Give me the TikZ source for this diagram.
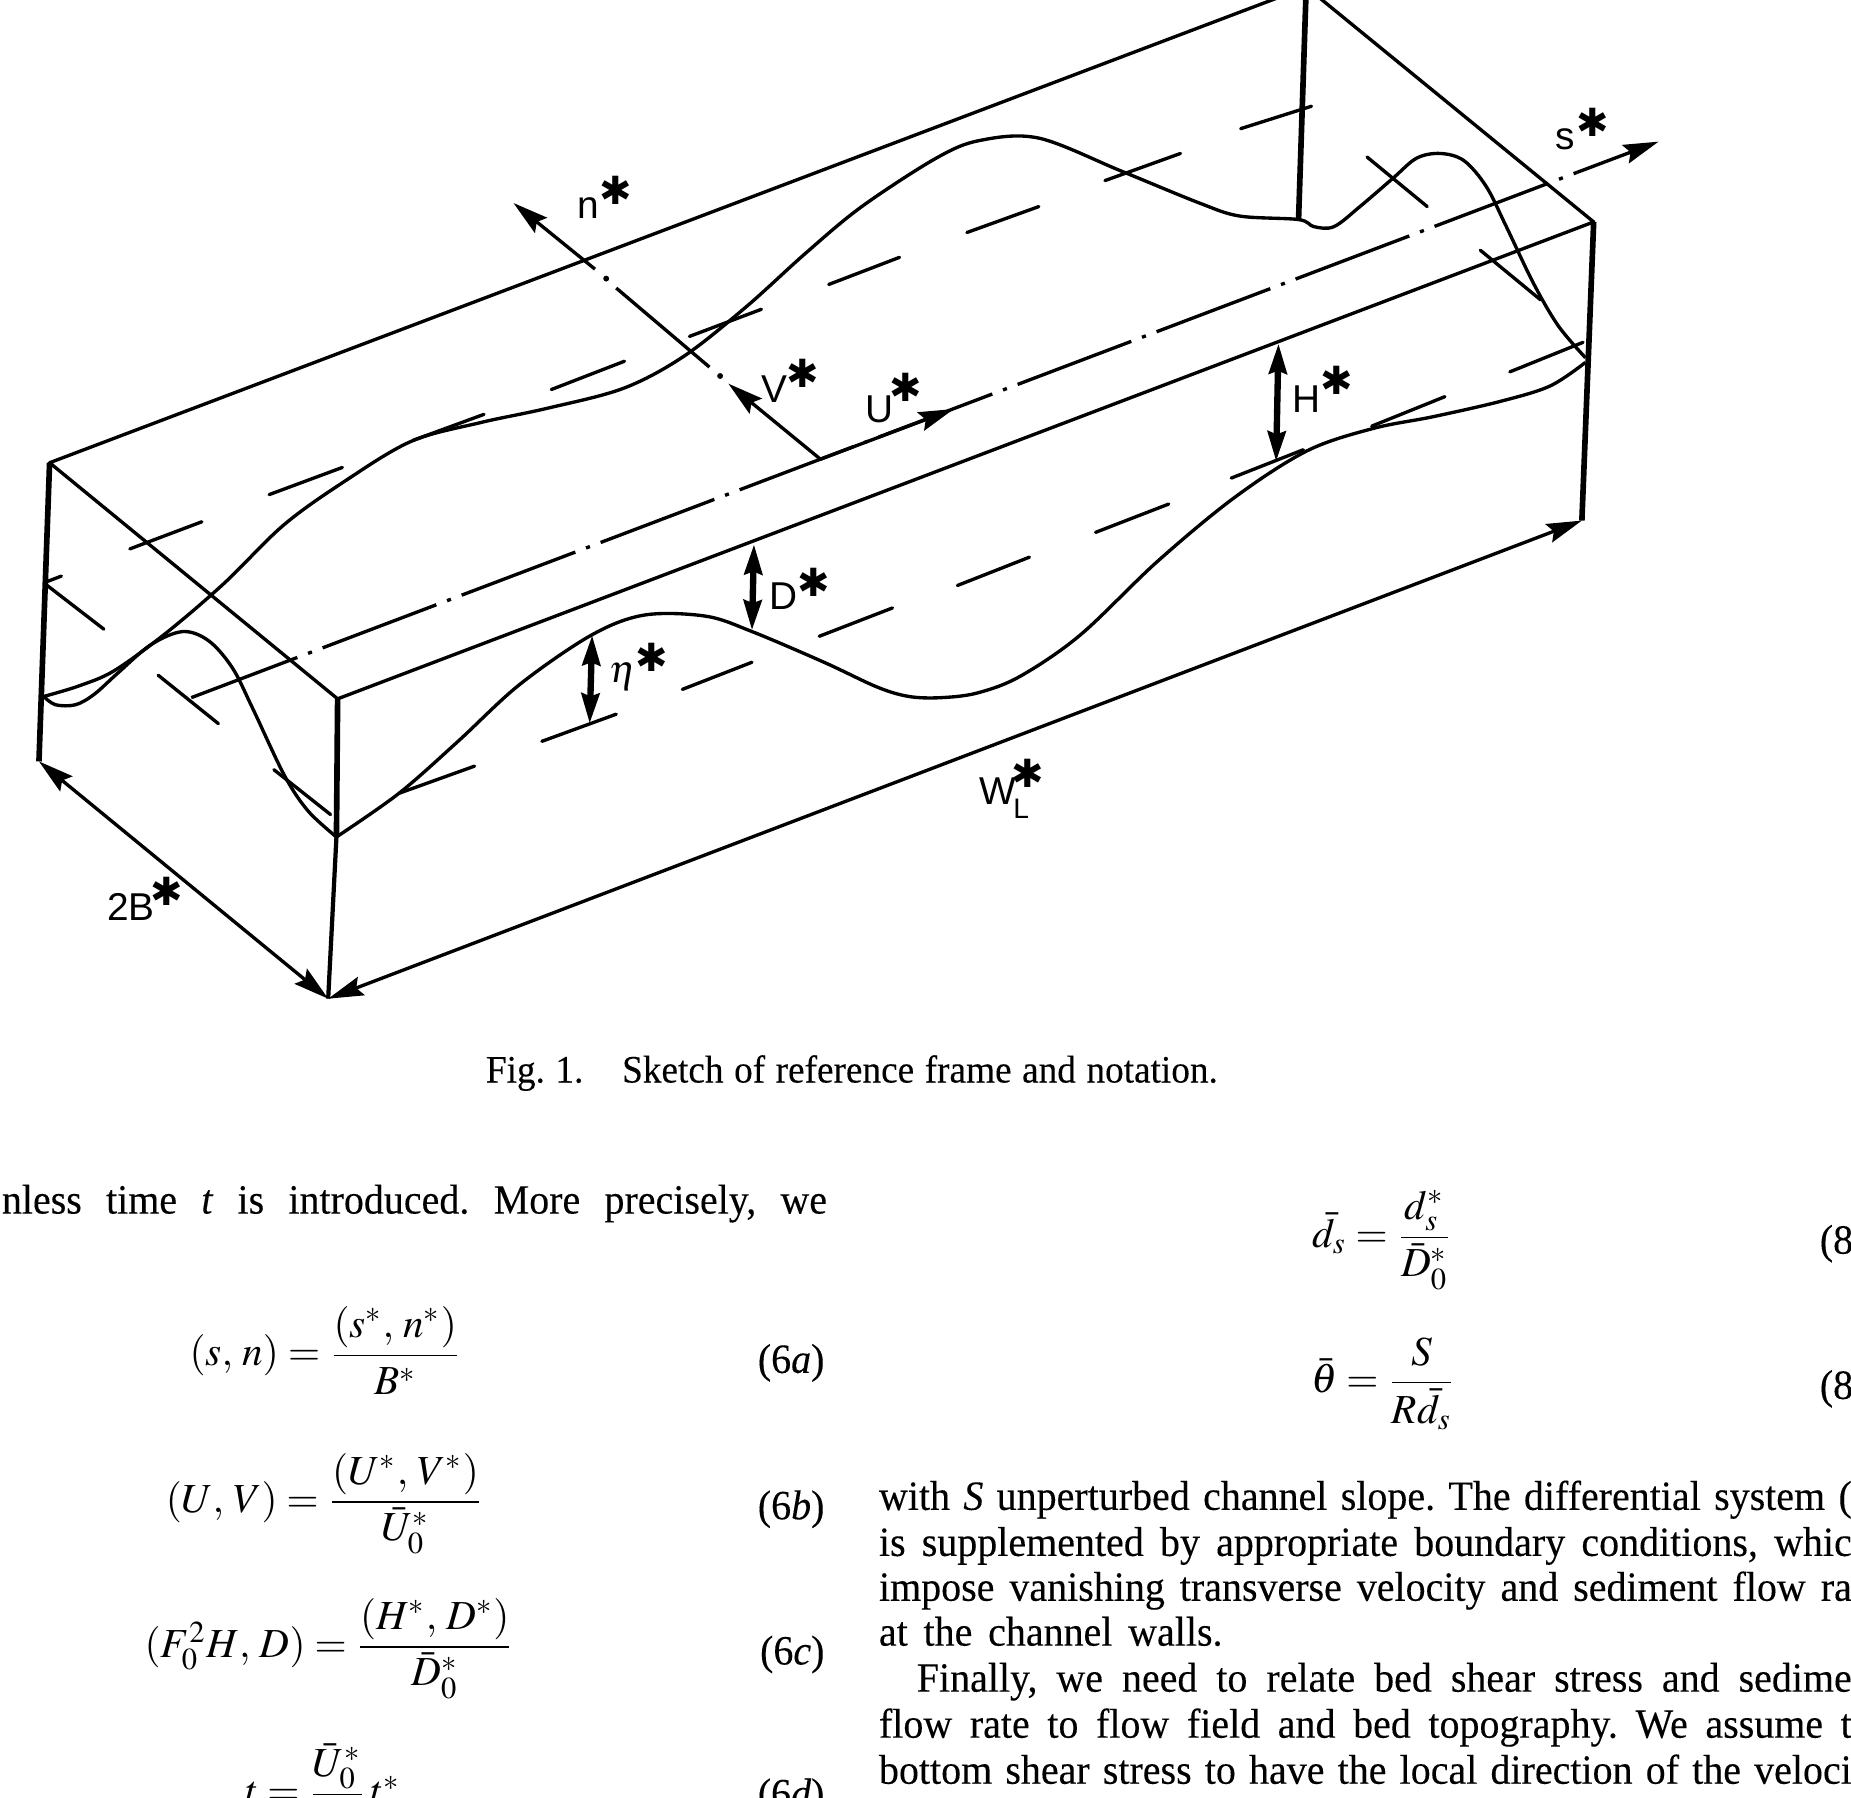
\documentclass[tikz,border=0pt]{standalone}
\usepackage{amsmath}
\usepackage{mathptmx}
\usepackage[no-math]{fontspec}
\setmainfont[FakeStretch=0.96,FakeBold=0.2]{Liberation Serif}
\newfontfamily\labelfont{Liberation Sans}
\newfontfamily\starfont{DejaVu Sans}
\usetikzlibrary{arrows.meta}
\frenchspacing
\newlength\pxu
\setlength\pxu{0.3346pt}
\newcommand{\fitline}[2]{\makebox[#1\pxu][s]{#2}}
\tikzset{
  edgeline/.style={line width=0.95pt,line join=round},
  thickline/.style={line width=1.6pt},
  bankline/.style={line width=0.95pt},
  midline/.style={line width=0.95pt,line cap=round},
  dimline/.style={line width=0.95pt,{Stealth[length=10pt,width=5.5pt,inset=1.5pt]}-{Stealth[length=10pt,width=5.5pt,inset=1.5pt]}},
  heightline/.style={line width=1.8pt,{Stealth[length=8.5pt,width=5pt,inset=0.8pt]}-{Stealth[length=8.5pt,width=5pt,inset=0.8pt]}},
  axisline/.style={line width=0.95pt,-{Stealth[length=10pt,width=5.5pt,inset=1.5pt]}},
  lab/.style={inner sep=0pt,font=\labelfont\fontsize{11}{11}\selectfont},
  sublab/.style={inner sep=0pt,font=\labelfont\fontsize{8}{8}\selectfont},
  star/.style={inner sep=0pt,font=\starfont\fontsize{11}{11}\selectfont},
  txt/.style={inner sep=0pt,anchor=base west,font=\fontsize{11.8}{11.8}\selectfont},
  captxt/.style={inner sep=0pt,anchor=base west,font=\fontsize{11}{11}\selectfont},
  eq/.style={inner sep=0pt,anchor=base west,font=\fontsize{11.7}{13}\selectfont}
}
\begin{document}
\begin{tikzpicture}[x=0.3346pt,y=-0.3346pt]
  \useasboundingbox (0,0) rectangle (1568,1523);
  \clip (0,0) rectangle (1568,1523);
  % box corners
  \coordinate (backtop) at (42,392);
  \coordinate (fronttop) at (286,592);
  \coordinate (righttop) at (1350,188);
  \coordinate (apex) at (1106.5,-11);
  \coordinate (backbot) at (33,645);
  \coordinate (frontbot) at (278,846);
  \coordinate (rightbot) at (1340,441);
  \coordinate (apexbed) at (1100,186);
  \coordinate (frontbed) at (285,709);
  \coordinate (backbed) at (37,590);
  \coordinate (rightbed) at (1343,303);

  \draw[edgeline] (apex) -- (backtop) -- (fronttop) -- (righttop) -- cycle;
  \draw[thickline] (backtop) -- (backbot);
  \draw[thickline] (fronttop) -- (frontbed);
  \draw[line width=1.2pt] (frontbed) -- (frontbot);
  \draw[thickline] (righttop) -- (rightbot);
  \draw[thickline] (apex) -- (apexbed);
  \draw[dimline] (backbot) -- (frontbot);
  \draw[dimline] (frontbot) -- (rightbot);

  % banks
  \draw[bankline] plot[smooth,tension=0.55] coordinates {(backbed) (67,581) (97,568) (141,536) (190,494) (240,445) (290,409) (348,374) (407,358) (463,346) (528,329) (579,302) (632,260) (683,214) (730,175) (793,134) (830,119) (880,117) (950,145) (1016,172) (1050,183) (apexbed) (1113,192) (1130,192) (1152,175) (1180,151) (1200,134) (1220,130) (1240,136) (1259,158) (1276,192) (1299,240) (1320,276) (rightbed)};
  \draw[bankline] plot[smooth,tension=0.55] coordinates {(backbed) (47,597) (64,597) (80,588) (100,570) (128,546) (155,535) (177,543) (197,566) (214,600) (241,657) (261,687) (frontbed)};
  \draw[bankline] plot[smooth,tension=0.55] coordinates {(frontbed) (338,672) (388,628) (440,580) (501,538) (546,521) (598,522) (637,535) (698,561) (743,582) (770,590) (797,591) (828,587) (864,573) (915,538) (980,476) (1045,422) (1107,382) (1163,363) (1214,353) (1271,340) (1313,327) (1343,307)};

  % middle lines of the two banks
  \foreach \xa/\ya/\xb/\yb in {39/493/52/488,110/465/171/442,228/419/290/396,350/373/410/351,467/330/529/306,584/285/645/262,702/241/762/218,819/197/880/175,936/153/1000/130,1051/109/1111/90,338/672/402/649,459/628/522/605,578/584/637/561,694/539/756/515,811/496/872/472,928/451/990/427,1043/405/1104/381,1162/361/1224/336,1279/315/1341/290}
    \draw[midline] (\xa,\ya) -- (\xb,\yb);
  % cross sections
  \foreach \xa/\ya/\xb/\yb in {40/496/88/533,134/572/185/613,232/652/280/690,1158/133/1209/175,1254/212/1305/254}
    \draw[midline] (\xa,\ya) -- (\xb,\yb);

  % axes
  \coordinate (saxis) at (162,591);
  \coordinate (sstart) at (1336,146);
  \coordinate (stip) at (1405,120);
  \coordinate (origin) at (695,389);
  \coordinate (utip) at (808,346.5);
  \coordinate (vtip) at (617,325);
  \coordinate (nstart) at (601,311);
  \coordinate (ntip) at (435,172);
  \draw[edgeline,dash pattern=on 34.46pt off 3.25pt on 1.17pt off 3.25pt,dash phase=2.3pt] (saxis) -- (sstart);
  \draw[axisline] (sstart) -- (stip);
  \draw[axisline] (origin) -- (utip);
  \draw[axisline] (origin) -- (vtip);
  \fill (610,318.5) circle (2.5);
  \draw[edgeline] (nstart) -- (522,244);
  \fill (513.5,236) circle (2.5);
  \draw[axisline] (504,228) -- (ntip);

  % heights
  \draw[heightline] (501.6,538) -- (499.5,613);
  \draw[heightline] (638.7,461) -- (637,534);
  \draw[heightline] (1083,291) -- (1081,391);

  % labels
  \node[lab] (nlab) at (498,176) {n};
  \node[star] (nstar) at (522,161) {\symbol{"2731}};
  \node[lab] (vlab) at (656,330) {V};
  \node[star] (vstar) at (680,316) {\symbol{"2731}};
  \node[lab] (ulab) at (745,347) {U};
  \node[star] (ustar) at (767,328) {\symbol{"2731}};
  \node[lab] (slab) at (1326,118) {s};
  \node[star] (sstar) at (1349,104) {\symbol{"2731}};
  \node[lab] (hlab) at (1107,338) {H};
  \node[star] (hstar) at (1132,322) {\symbol{"2731}};
  \node[lab] (dlab) at (664,505) {D};
  \node[star] (dstar) at (689,493) {\symbol{"2731}};
  \node[lab] (etalab) at (528,573) {$\eta$};
  \node[star] (etastar) at (552,557) {\symbol{"2731}};
  \node[lab] (wlab) at (845,670) {W};
  \node[sublab] (wsub) at (865,685) {L};
  \node[star] (wstar) at (871,655) {\symbol{"2731}};
  \node[lab] (blab) at (111,768) {2B};
  \node[star] (bstar) at (141,755) {\symbol{"2731}};

  % caption
  \node[captxt] (caption) at (411,917) {\fitline{620}{Fig.\ 1.\quad Sketch of reference frame and notation.}};

  % left column
  \node[txt] (intro) at (1,1028) {\fitline{699}{nless time \textit{t} is introduced. More precisely, we}};
  \node[eq] (eqa) at (160,1157) {$(s,\,n)=\dfrac{(s^*,\,n^*)}{B^*}$};
  \node[eq] (eqb) at (140,1281) {$(U,\,V)=\dfrac{(U^*,\,V^*)}{\bar U_0^*}$};
  \node[eq] (eqc) at (122,1404) {$(F_0^2H,\,D)=\dfrac{(H^*,\,D^*)}{\bar D_0^*}$};
  \node[eq] (eqd) at (207,1529) {$t=\dfrac{\bar U_0^*}{\phantom{B^*}}\,t^*$};
  \node[txt,anchor=base east] (numa) at (699,1163) {(6\textit{a})};
  \node[txt,anchor=base east] (numb) at (699,1287) {(6\textit{b})};
  \node[txt,anchor=base east] (numc) at (699,1410) {(6\textit{c})};
  \node[txt,anchor=base east] (numd) at (699,1531) {(6\textit{d})};

  % right column
  \node[eq] (eqe) at (1111,1057) {$\bar d_s=\dfrac{d_s^*}{\bar D_0^*}$};
  \node[eq] (eqf) at (1110,1180) {$\bar\theta=\dfrac{S}{R\bar d_s}$};
  \node[txt] (nume) at (1541,1062) {(8};
  \node[txt] (numf) at (1541,1185) {(8};
  \node[txt] (para1) at (744,1279) {\fitline{824}{with \textit{S} unperturbed channel slope. The differential system (}};
  \node[txt] (para2) at (744,1318) {\fitline{824}{is supplemented by appropriate boundary conditions, whic}};
  \node[txt] (para3) at (744,1356) {\fitline{824}{impose vanishing transverse velocity and sediment flow ra}};
  \node[txt] (para4) at (744,1394) {\fitline{291}{at the channel walls.}};
  \node[txt] (para5) at (776,1433) {\fitline{792}{Finally, we need to relate bed shear stress and sedime}};
  \node[txt] (para6) at (744,1472) {\fitline{824}{flow rate to flow field and bed topography. We assume t}};
  \node[txt] (para7) at (744,1511) {\fitline{824}{bottom shear stress to have the local direction of the veloci}};
\end{tikzpicture}
\end{document}
